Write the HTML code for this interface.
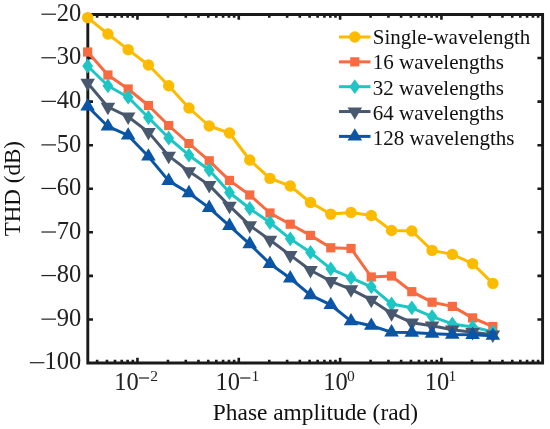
<!DOCTYPE html>
<html><head><meta charset="utf-8"><style>html,body{margin:0;padding:0;background:#fff;}svg{display:block;will-change:transform;}</style></head>
<body><svg width="550" height="429" viewBox="0 0 550 429">
<rect width="550" height="429" fill="#fff"/>
<g stroke="#1a1a1a" stroke-width="2.6" fill="none"><path d="M97.13 363V359.7M97.13 14.5V17.8"/><path d="M106.95 363V359.7M106.95 14.5V17.8"/><path d="M114.97 363V359.7M114.97 14.5V17.8"/><path d="M121.75 363V359.7M121.75 14.5V17.8"/><path d="M127.63 363V359.7M127.63 14.5V17.8"/><path d="M132.81 363V359.7M132.81 14.5V17.8"/><path d="M137.45 363V357.8M137.45 14.5V19.7"/><path d="M167.95 363V359.7M167.95 14.5V17.8"/><path d="M185.8 363V359.7M185.8 14.5V17.8"/><path d="M198.46 363V359.7M198.46 14.5V17.8"/><path d="M208.28 363V359.7M208.28 14.5V17.8"/><path d="M216.3 363V359.7M216.3 14.5V17.8"/><path d="M223.08 363V359.7M223.08 14.5V17.8"/><path d="M228.96 363V359.7M228.96 14.5V17.8"/><path d="M234.14 363V359.7M234.14 14.5V17.8"/><path d="M238.78 363V357.8M238.78 14.5V19.7"/><path d="M269.28 363V359.7M269.28 14.5V17.8"/><path d="M287.13 363V359.7M287.13 14.5V17.8"/><path d="M299.79 363V359.7M299.79 14.5V17.8"/><path d="M309.61 363V359.7M309.61 14.5V17.8"/><path d="M317.63 363V359.7M317.63 14.5V17.8"/><path d="M324.41 363V359.7M324.41 14.5V17.8"/><path d="M330.29 363V359.7M330.29 14.5V17.8"/><path d="M335.47 363V359.7M335.47 14.5V17.8"/><path d="M340.11 363V357.8M340.11 14.5V19.7"/><path d="M370.61 363V359.7M370.61 14.5V17.8"/><path d="M388.46 363V359.7M388.46 14.5V17.8"/><path d="M401.12 363V359.7M401.12 14.5V17.8"/><path d="M410.94 363V359.7M410.94 14.5V17.8"/><path d="M418.96 363V359.7M418.96 14.5V17.8"/><path d="M425.74 363V359.7M425.74 14.5V17.8"/><path d="M431.62 363V359.7M431.62 14.5V17.8"/><path d="M436.8 363V359.7M436.8 14.5V17.8"/><path d="M441.44 363V357.8M441.44 14.5V19.7"/><path d="M471.94 363V359.7M471.94 14.5V17.8"/><path d="M489.79 363V359.7M489.79 14.5V17.8"/><path d="M502.45 363V359.7M502.45 14.5V17.8"/><path d="M512.27 363V359.7M512.27 14.5V17.8"/><path d="M520.29 363V359.7M520.29 14.5V17.8"/><path d="M527.07 363V359.7M527.07 14.5V17.8"/><path d="M532.95 363V359.7M532.95 14.5V17.8"/><path d="M538.13 363V359.7M538.13 14.5V17.8"/><path d="M87.8 58.06H93M542.6 58.06H537.4"/><path d="M87.8 101.62H93M542.6 101.62H537.4"/><path d="M87.8 145.19H93M542.6 145.19H537.4"/><path d="M87.8 188.75H93M542.6 188.75H537.4"/><path d="M87.8 232.31H93M542.6 232.31H537.4"/><path d="M87.8 275.88H93M542.6 275.88H537.4"/><path d="M87.8 319.44H93M542.6 319.44H537.4"/></g>
<path d="M87.8 14.5H542.6V363.0H87.8Z" fill="none" stroke="#1a1a1a" stroke-width="2.9"/>
<polyline points="87.65,17.6 107.91,34 128.17,49.6 148.43,65 168.69,85.8 188.95,108 209.21,126 229.47,133 249.73,160 269.99,178.4 290.25,186 310.51,202.5 330.77,214.1 351.03,212.5 371.29,215.5 391.55,230.5 411.81,231 432.07,250.4 452.33,254.4 472.59,263.6 492.85,283.4" fill="none" stroke="#FDBB00" stroke-width="3.0" stroke-linejoin="round"/>
<circle cx="87.65" cy="17.6" r="5.7" fill="#FDBB00"/><circle cx="107.91" cy="34" r="5.7" fill="#FDBB00"/><circle cx="128.17" cy="49.6" r="5.7" fill="#FDBB00"/><circle cx="148.43" cy="65" r="5.7" fill="#FDBB00"/><circle cx="168.69" cy="85.8" r="5.7" fill="#FDBB00"/><circle cx="188.95" cy="108" r="5.7" fill="#FDBB00"/><circle cx="209.21" cy="126" r="5.7" fill="#FDBB00"/><circle cx="229.47" cy="133" r="5.7" fill="#FDBB00"/><circle cx="249.73" cy="160" r="5.7" fill="#FDBB00"/><circle cx="269.99" cy="178.4" r="5.7" fill="#FDBB00"/><circle cx="290.25" cy="186" r="5.7" fill="#FDBB00"/><circle cx="310.51" cy="202.5" r="5.7" fill="#FDBB00"/><circle cx="330.77" cy="214.1" r="5.7" fill="#FDBB00"/><circle cx="351.03" cy="212.5" r="5.7" fill="#FDBB00"/><circle cx="371.29" cy="215.5" r="5.7" fill="#FDBB00"/><circle cx="391.55" cy="230.5" r="5.7" fill="#FDBB00"/><circle cx="411.81" cy="231" r="5.7" fill="#FDBB00"/><circle cx="432.07" cy="250.4" r="5.7" fill="#FDBB00"/><circle cx="452.33" cy="254.4" r="5.7" fill="#FDBB00"/><circle cx="472.59" cy="263.6" r="5.7" fill="#FDBB00"/><circle cx="492.85" cy="283.4" r="5.7" fill="#FDBB00"/>
<polyline points="87.65,52 107.91,75 128.17,89 148.43,105.5 168.69,125.5 188.95,143.5 209.21,160.8 229.47,180.4 249.73,195 269.99,213 290.25,224.2 310.51,235.4 330.77,247.8 351.03,248.5 371.29,277 391.55,276 411.81,291.7 432.07,302.2 452.33,306.4 472.59,317.9 492.85,326.5" fill="none" stroke="#F86B40" stroke-width="3.0" stroke-linejoin="round"/>
<rect x="83.05" y="47.4" width="9.2" height="9.2" fill="#F86B40"/><rect x="103.31" y="70.4" width="9.2" height="9.2" fill="#F86B40"/><rect x="123.57" y="84.4" width="9.2" height="9.2" fill="#F86B40"/><rect x="143.83" y="100.9" width="9.2" height="9.2" fill="#F86B40"/><rect x="164.09" y="120.9" width="9.2" height="9.2" fill="#F86B40"/><rect x="184.35" y="138.9" width="9.2" height="9.2" fill="#F86B40"/><rect x="204.61" y="156.2" width="9.2" height="9.2" fill="#F86B40"/><rect x="224.87" y="175.8" width="9.2" height="9.2" fill="#F86B40"/><rect x="245.13" y="190.4" width="9.2" height="9.2" fill="#F86B40"/><rect x="265.39" y="208.4" width="9.2" height="9.2" fill="#F86B40"/><rect x="285.65" y="219.6" width="9.2" height="9.2" fill="#F86B40"/><rect x="305.91" y="230.8" width="9.2" height="9.2" fill="#F86B40"/><rect x="326.17" y="243.2" width="9.2" height="9.2" fill="#F86B40"/><rect x="346.43" y="243.9" width="9.2" height="9.2" fill="#F86B40"/><rect x="366.69" y="272.4" width="9.2" height="9.2" fill="#F86B40"/><rect x="386.95" y="271.4" width="9.2" height="9.2" fill="#F86B40"/><rect x="407.21" y="287.1" width="9.2" height="9.2" fill="#F86B40"/><rect x="427.47" y="297.6" width="9.2" height="9.2" fill="#F86B40"/><rect x="447.73" y="301.8" width="9.2" height="9.2" fill="#F86B40"/><rect x="467.99" y="313.3" width="9.2" height="9.2" fill="#F86B40"/><rect x="488.25" y="321.9" width="9.2" height="9.2" fill="#F86B40"/>
<polyline points="87.65,66 107.91,85.8 128.17,97.2 148.43,117.5 168.69,138 188.95,155.2 209.21,170 229.47,192.5 249.73,208.5 269.99,222.5 290.25,238.8 310.51,252.4 330.77,268.8 351.03,277.8 371.29,286.8 391.55,304 411.81,307.8 432.07,316.6 452.33,323.9 472.59,327 492.85,331.8" fill="none" stroke="#1EC5C5" stroke-width="3.0" stroke-linejoin="round"/>
<path d="M87.65 58.6L93.05 66L87.65 73.4L82.25 66Z" fill="#1EC5C5"/><path d="M107.91 78.4L113.31 85.8L107.91 93.2L102.51 85.8Z" fill="#1EC5C5"/><path d="M128.17 89.8L133.57 97.2L128.17 104.6L122.77 97.2Z" fill="#1EC5C5"/><path d="M148.43 110.1L153.83 117.5L148.43 124.9L143.03 117.5Z" fill="#1EC5C5"/><path d="M168.69 130.6L174.09 138L168.69 145.4L163.29 138Z" fill="#1EC5C5"/><path d="M188.95 147.8L194.35 155.2L188.95 162.6L183.55 155.2Z" fill="#1EC5C5"/><path d="M209.21 162.6L214.61 170L209.21 177.4L203.81 170Z" fill="#1EC5C5"/><path d="M229.47 185.1L234.87 192.5L229.47 199.9L224.07 192.5Z" fill="#1EC5C5"/><path d="M249.73 201.1L255.13 208.5L249.73 215.9L244.33 208.5Z" fill="#1EC5C5"/><path d="M269.99 215.1L275.39 222.5L269.99 229.9L264.59 222.5Z" fill="#1EC5C5"/><path d="M290.25 231.4L295.65 238.8L290.25 246.2L284.85 238.8Z" fill="#1EC5C5"/><path d="M310.51 245L315.91 252.4L310.51 259.8L305.11 252.4Z" fill="#1EC5C5"/><path d="M330.77 261.4L336.17 268.8L330.77 276.2L325.37 268.8Z" fill="#1EC5C5"/><path d="M351.03 270.4L356.43 277.8L351.03 285.2L345.63 277.8Z" fill="#1EC5C5"/><path d="M371.29 279.4L376.69 286.8L371.29 294.2L365.89 286.8Z" fill="#1EC5C5"/><path d="M391.55 296.6L396.95 304L391.55 311.4L386.15 304Z" fill="#1EC5C5"/><path d="M411.81 300.4L417.21 307.8L411.81 315.2L406.41 307.8Z" fill="#1EC5C5"/><path d="M432.07 309.2L437.47 316.6L432.07 324L426.67 316.6Z" fill="#1EC5C5"/><path d="M452.33 316.5L457.73 323.9L452.33 331.3L446.93 323.9Z" fill="#1EC5C5"/><path d="M472.59 319.6L477.99 327L472.59 334.4L467.19 327Z" fill="#1EC5C5"/><path d="M492.85 324.4L498.25 331.8L492.85 339.2L487.45 331.8Z" fill="#1EC5C5"/>
<polyline points="87.65,82.93 107.91,106.93 128.17,116.73 148.43,132.13 168.69,155.93 188.95,171.33 209.21,185.13 229.47,205.93 249.73,225.43 269.99,239.93 290.25,255.13 310.51,270.23 330.77,281.13 351.03,289.43 371.29,299.93 391.55,313.43 411.81,322.73 432.07,325.73 452.33,329.73 472.59,332.23 492.85,334.63" fill="none" stroke="#48586E" stroke-width="3.0" stroke-linejoin="round"/>
<path d="M80.35 78.8L94.95 78.8L87.65 91.2Z" fill="#48586E"/><path d="M100.61 102.8L115.21 102.8L107.91 115.2Z" fill="#48586E"/><path d="M120.87 112.6L135.47 112.6L128.17 125Z" fill="#48586E"/><path d="M141.13 128L155.73 128L148.43 140.4Z" fill="#48586E"/><path d="M161.39 151.8L175.99 151.8L168.69 164.2Z" fill="#48586E"/><path d="M181.65 167.2L196.25 167.2L188.95 179.6Z" fill="#48586E"/><path d="M201.91 181L216.51 181L209.21 193.4Z" fill="#48586E"/><path d="M222.17 201.8L236.77 201.8L229.47 214.2Z" fill="#48586E"/><path d="M242.43 221.3L257.03 221.3L249.73 233.7Z" fill="#48586E"/><path d="M262.69 235.8L277.29 235.8L269.99 248.2Z" fill="#48586E"/><path d="M282.95 251L297.55 251L290.25 263.4Z" fill="#48586E"/><path d="M303.21 266.1L317.81 266.1L310.51 278.5Z" fill="#48586E"/><path d="M323.47 277L338.07 277L330.77 289.4Z" fill="#48586E"/><path d="M343.73 285.3L358.33 285.3L351.03 297.7Z" fill="#48586E"/><path d="M363.99 295.8L378.59 295.8L371.29 308.2Z" fill="#48586E"/><path d="M384.25 309.3L398.85 309.3L391.55 321.7Z" fill="#48586E"/><path d="M404.51 318.6L419.11 318.6L411.81 331Z" fill="#48586E"/><path d="M424.77 321.6L439.37 321.6L432.07 334Z" fill="#48586E"/><path d="M445.03 325.6L459.63 325.6L452.33 338Z" fill="#48586E"/><path d="M465.29 328.1L479.89 328.1L472.59 340.5Z" fill="#48586E"/><path d="M485.55 330.5L500.15 330.5L492.85 342.9Z" fill="#48586E"/>
<polyline points="87.65,106.47 107.91,126.47 128.17,135.47 148.43,156.47 168.69,180.87 188.95,193.07 209.21,207.87 229.47,225.77 249.73,244.07 269.99,263.77 290.25,278.27 310.51,295.07 330.77,304.97 351.03,321.17 371.29,325.67 391.55,332.27 411.81,332.57 432.07,333.67 452.33,334.57 472.59,334.87 492.85,335.67" fill="none" stroke="#0A55A5" stroke-width="3.0" stroke-linejoin="round"/>
<path d="M80.35 110.6L94.95 110.6L87.65 98.2Z" fill="#0A55A5"/><path d="M100.61 130.6L115.21 130.6L107.91 118.2Z" fill="#0A55A5"/><path d="M120.87 139.6L135.47 139.6L128.17 127.2Z" fill="#0A55A5"/><path d="M141.13 160.6L155.73 160.6L148.43 148.2Z" fill="#0A55A5"/><path d="M161.39 185L175.99 185L168.69 172.6Z" fill="#0A55A5"/><path d="M181.65 197.2L196.25 197.2L188.95 184.8Z" fill="#0A55A5"/><path d="M201.91 212L216.51 212L209.21 199.6Z" fill="#0A55A5"/><path d="M222.17 229.9L236.77 229.9L229.47 217.5Z" fill="#0A55A5"/><path d="M242.43 248.2L257.03 248.2L249.73 235.8Z" fill="#0A55A5"/><path d="M262.69 267.9L277.29 267.9L269.99 255.5Z" fill="#0A55A5"/><path d="M282.95 282.4L297.55 282.4L290.25 270Z" fill="#0A55A5"/><path d="M303.21 299.2L317.81 299.2L310.51 286.8Z" fill="#0A55A5"/><path d="M323.47 309.1L338.07 309.1L330.77 296.7Z" fill="#0A55A5"/><path d="M343.73 325.3L358.33 325.3L351.03 312.9Z" fill="#0A55A5"/><path d="M363.99 329.8L378.59 329.8L371.29 317.4Z" fill="#0A55A5"/><path d="M384.25 336.4L398.85 336.4L391.55 324Z" fill="#0A55A5"/><path d="M404.51 336.7L419.11 336.7L411.81 324.3Z" fill="#0A55A5"/><path d="M424.77 337.8L439.37 337.8L432.07 325.4Z" fill="#0A55A5"/><path d="M445.03 338.7L459.63 338.7L452.33 326.3Z" fill="#0A55A5"/><path d="M465.29 339L479.89 339L472.59 326.6Z" fill="#0A55A5"/><path d="M485.55 339.8L500.15 339.8L492.85 327.4Z" fill="#0A55A5"/>

<g font-family="Liberation Serif" font-size="24.5" fill="#222"><text x="81.2" y="20.9" text-anchor="end">20</text><rect x="41.4" y="13.6" width="14.6" height="1.2"/><text x="81.2" y="64.46" text-anchor="end">30</text><rect x="41.4" y="57.16" width="14.6" height="1.2"/><text x="81.2" y="108.03" text-anchor="end">40</text><rect x="41.4" y="100.73" width="14.6" height="1.2"/><text x="81.2" y="151.59" text-anchor="end">50</text><rect x="41.4" y="144.29" width="14.6" height="1.2"/><text x="81.2" y="195.15" text-anchor="end">60</text><rect x="41.4" y="187.85" width="14.6" height="1.2"/><text x="81.2" y="238.71" text-anchor="end">70</text><rect x="41.4" y="231.41" width="14.6" height="1.2"/><text x="81.2" y="282.27" text-anchor="end">80</text><rect x="41.4" y="274.97" width="14.6" height="1.2"/><text x="81.2" y="325.84" text-anchor="end">90</text><rect x="41.4" y="318.54" width="14.6" height="1.2"/><text x="81.2" y="369.4" text-anchor="end">100</text><rect x="29.8" y="362.1" width="14.6" height="1.2"/></g>
<g font-family="Liberation Serif" fill="#222"><text x="114.15" y="390" font-size="24.5">10</text><rect x="138.95" y="377.4" width="10.2" height="1.2"/><text x="150.15" y="381.3" font-size="15.5">2</text><text x="215.4" y="390" font-size="24.5">10</text><rect x="240.2" y="377.4" width="10.2" height="1.2"/><text x="251.4" y="381.3" font-size="15.5">1</text><text x="323.35" y="390" font-size="24.5">10</text><text x="347.05" y="381.3" font-size="15.5">0</text><text x="424.8" y="390" font-size="24.5">10</text><text x="448.5" y="381.3" font-size="15.5">1</text></g>
<g font-family="Liberation Serif" font-size="21" fill="#111"><path d="M339 37H370.5" stroke="#FDBB00" stroke-width="3.0"/><circle cx="354.8" cy="37" r="5.7" fill="#FDBB00"/><text x="372.8" y="44.3">Single-wavelength</text><path d="M339 61.85H370.5" stroke="#F86B40" stroke-width="3.0"/><rect x="350.2" y="57.25" width="9.2" height="9.2" fill="#F86B40"/><text x="372.8" y="69.4">16 wavelengths</text><path d="M339 86.7H370.5" stroke="#1EC5C5" stroke-width="3.0"/><path d="M354.8 79.3L360.2 86.7L354.8 94.1L349.4 86.7Z" fill="#1EC5C5"/><text x="372.8" y="94.5">32 wavelengths</text><path d="M339 111.55H370.5" stroke="#48586E" stroke-width="3.0"/><path d="M347.5 107.42L362.1 107.42L354.8 119.82Z" fill="#48586E"/><text x="372.8" y="119.6">64 wavelengths</text><path d="M339 136.4H370.5" stroke="#0A55A5" stroke-width="3.0"/><path d="M347.5 140.53L362.1 140.53L354.8 128.13Z" fill="#0A55A5"/><text x="372.8" y="144.7">128 wavelengths</text></g>
<text x="212.8" y="420.3" font-family="Liberation Serif" font-size="23.4" fill="#111">Phase amplitude (rad)</text>
<text transform="translate(19.7,236.3) rotate(-90)" font-family="Liberation Serif" font-size="23" fill="#111">THD (dB)</text>
</svg></body></html>
